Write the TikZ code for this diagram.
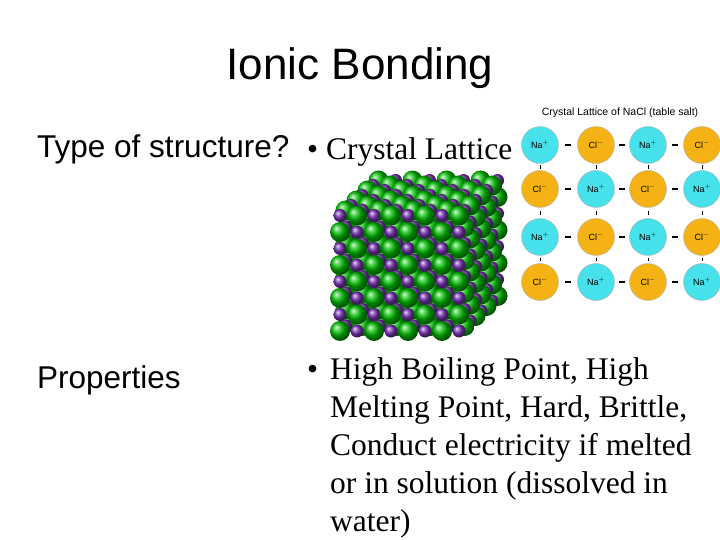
\documentclass[tikz,border=0pt]{standalone}
\usepackage{fontspec}
\usetikzlibrary{calc}
\setmainfont{Liberation Serif}
\newfontfamily\arial{Liberation Sans}
\definecolor{naC}{RGB}{70,225,235}
\definecolor{clC}{RGB}{245,178,20}
\begin{document}
\begin{tikzpicture}[x=1pt,y=-1pt,
  na/.style={circle,draw=gray!60,fill=naC,minimum size=37pt,inner sep=0pt,font=\arial\fontsize{9}{10}\selectfont},
  cl/.style={circle,draw=gray!60,fill=clC,minimum size=37pt,inner sep=0pt,font=\arial\fontsize{9}{10}\selectfont},
  lbl/.style={anchor=west,inner sep=0pt,font=\arial\fontsize{31.5}{36}\selectfont},
  body/.style={anchor=north west,inner sep=0pt,font=\fontsize{31.5}{38}\selectfont,align=left}]
\useasboundingbox[fill=white] (0,0) rectangle (720,540);
\node[font=\arial\fontsize{44}{50}\selectfont] (title) at (360,68) {Ionic Bonding};
\node[lbl] (type) at (37,149) {Type of structure?};
\node[lbl] (prop) at (37,380) {Properties};
\node[anchor=west,inner sep=0pt,font=\fontsize{31.5}{36}\selectfont] (cl1) at (307,152) {\textbullet\ Crystal Lattice};
\node[anchor=west,inner sep=0pt,font=\fontsize{31.5}{36}\selectfont] (b2) at (307,372) {\textbullet};
\node[body] (props) at (330,357) {High Boiling Point, High\\Melting Point, Hard, Brittle,\\Conduct electricity if melted\\or in solution (dissolved in\\water)};
% sphere cube
\foreach \k in {7,...,0}{
 \foreach \r in {0,...,7}{
  \foreach \c in {7,...,0}{
   \pgfmathtruncatemacro{\p}{mod(\k+\r+\c,2)}
   \pgfmathsetmacro{\xx}{340+\c*17+\k*5.5}
   \pgfmathsetmacro{\yy}{331-\r*16.5-\k*5}
   \ifnum\p=0
     \shade[ball color=green!75!black] (\xx,\yy) circle (10);
   \else
     \shade[ball color=violet!70!blue!80] (\xx,\yy) circle (6.5);
   \fi
  }}}
% NaCl lattice
\node[font=\arial\fontsize{10.5}{12}\selectfont] (cap) at (620,113) {Crystal Lattice of NaCl (table salt)};
\foreach \i/\x in {0/540,1/596,2/648,3/702}{
 \foreach \j/\y in {0/145,1/189,2/237,3/282}{
  \pgfmathtruncatemacro{\q}{mod(\i+\j,2)}
  \ifnum\q=0 \node[na] (n\i\j) at (\x,\y) {Na$^+$};
  \else \node[cl] (n\i\j) at (\x,\y) {Cl$^-$};\fi
 }}
\foreach \j in {0,...,3}{
 \foreach \i/\n in {0/1,1/2,2/3}{
  \draw[line width=1.5pt] ($(n\i\j)!0.45!(n\n\j)$) -- ($(n\i\j)!0.55!(n\n\j)$);}}
\foreach \i in {0,...,3}{
 \foreach \j/\n in {0/1,1/2,2/3}{
  \draw[line width=1pt] ($(n\i\j)!0.46!(n\i\n)$) -- ($(n\i\j)!0.54!(n\i\n)$);}}
\end{tikzpicture}
\end{document}
